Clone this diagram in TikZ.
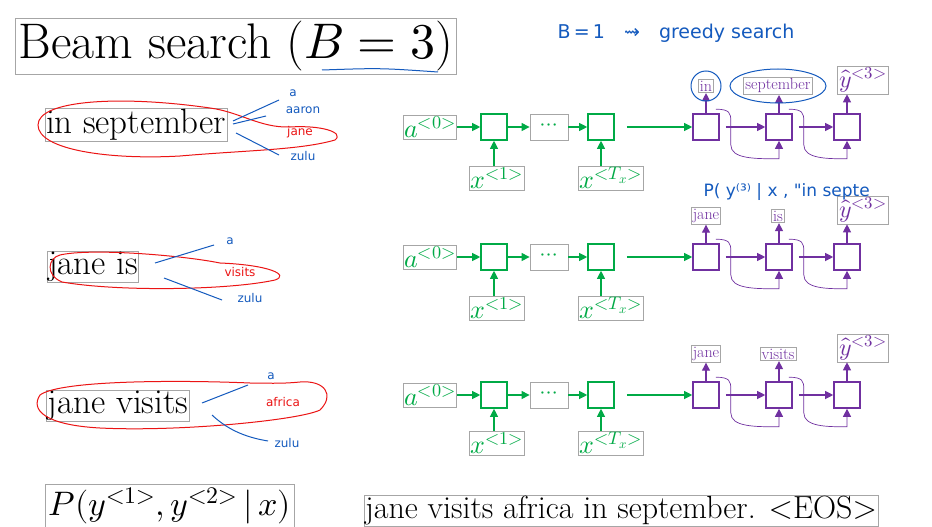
\documentclass[tikz,border=0pt]{standalone}
\usepackage{fontspec}
\usepackage{unicode-math}
\setmathfont{Latin Modern Math}
\usetikzlibrary{calc,arrows.meta}
\newfontfamily\hand{DejaVu Sans}
\definecolor{gg}{RGB}{0,170,70}
\definecolor{pp}{RGB}{112,48,160}
\definecolor{hb}{RGB}{20,90,190}
\definecolor{hr}{RGB}{235,20,20}
\tikzset{
  frm/.style={draw=gray!70,line width=0.8pt,inner sep=2pt},
  gcell/.style={draw=gg,line width=1.6pt,minimum size=26pt,inner sep=0},
  pcell/.style={draw=pp,line width=1.6pt,minimum size=26pt,inner sep=0},
  garr/.style={draw=gg,line width=1.1pt,-{Triangle[length=8pt,width=8pt]}},
  parr/.style={draw=pp,line width=1.1pt,-{Triangle[length=8pt,width=8pt]}},
  pcurve/.style={draw=pp,line width=0.7pt,-{Triangle[length=8pt,width=8pt]}},
  gtxt/.style={frm,text=gg,font=\fontsize{26}{28}\selectfont},
  ptxt/.style={frm,text=pp,font=\fontsize{16}{18}\selectfont,inner sep=1.5pt},
  big/.style={frm,font=\fontsize{35}{37}\selectfont,inner sep=1pt},
  hbt/.style={text=hb,font=\hand\fontsize{12}{13}\selectfont},
  hrt/.style={text=hr,font=\hand\fontsize{12}{13}\selectfont},
  hbl/.style={draw=hb,line width=1pt},
  hrl/.style={draw=hr,line width=1pt},
}
\newcommand\myrow[5]{%
  \node[gtxt,inner sep=1pt] (#1a) at (430,#2) {$a^{<0>}$};
  \node[gcell] (#1g1) at (494,#2) {};
  \node[frm,minimum width=38pt,minimum height=26pt,text=gg,font=\fontsize{22}{24}\selectfont] (#1d) at (549,#2) {$\boldsymbol{\cdots}$};
  \node[gcell] (#1g2) at (601,#2) {};
  \node[gtxt,inner sep=1pt] (#1x1) at (497,#2+51+#5) {$x^{<1>}$};
  \node[gtxt,inner sep=1pt] (#1x2) at (611,#2+51+#5) {$x^{<T_x>}$};
  \node[pcell] (#1p1) at (706,#2) {};
  \node[pcell] (#1p2) at (779,#2) {};
  \node[pcell] (#1p3) at (847,#2) {};
  \node[ptxt] (#1l1) at (706,#2-41) {#3};
  \node[ptxt] (#1l2) at (778,#2-41) {#4};
  \node[frm,text=pp,font=\fontsize{24}{26}\selectfont,inner sep=1.5pt] (#1l3) at (863,#2-47) {$\hat{y}^{<3>}$};
  \draw[garr] (#1a) -- (#1g1);
  \draw[garr] (#1g1) -- (#1d);
  \draw[garr] (#1d) -- (#1g2);
  \draw[garr] (#1g1.south |- #1x1.north) -- (#1g1.south);
  \draw[garr] (#1g2.south |- #1x2.north) -- (#1g2.south);
  \draw[garr] ($(#1g2.east)+(12,0)$) -- (#1p1.west);
  \draw[parr] ($(#1p1.east)+(6,0)$) -- (#1p2.west);
  \draw[parr] ($(#1p2.east)+(6,0)$) -- (#1p3.west);
  \draw[parr] (#1p1.north) -- (#1p1.north |- #1l1.south);
  \draw[parr] (#1p2.north) -- (#1p2.north |- #1l2.south);
  \draw[parr] (#1p3.north) -- (#1p3.north |- #1l3.south);
  \draw[pcurve] ($(#1p1.north east)+(-4,-4)$) .. controls ($(#1p1.north east)+(10,-4)$) and ($(#1p1.north east)+(11,0)$) .. ($(#1p1.north east)+(11,8)$) -- ($(#1p1.south east)+(11,4)$) .. controls ($(#1p1.south east)+(11,18)$) and ($(#1p2.south)+(-25,18)$) .. ($(#1p2.south)+(0,18)$) -- (#1p2.south);
  \draw[pcurve] ($(#1p2.north east)+(-4,-4)$) .. controls ($(#1p2.north east)+(10,-4)$) and ($(#1p2.north east)+(11,0)$) .. ($(#1p2.north east)+(11,8)$) -- ($(#1p2.south east)+(11,4)$) .. controls ($(#1p2.south east)+(11,18)$) and ($(#1p3.south)+(-20,18)$) .. ($(#1p3.south)+(0,18)$) -- (#1p3.south);
}
\begin{document}
\begin{tikzpicture}[x=1pt,y=-1pt]
\useasboundingbox[fill=white] (0,0) rectangle (932,527);
% title
\node[frm,font=\fontsize{50}{54}\selectfont,inner sep=3pt] (title) at (236,46) {Beam search ($B=3$)};
\draw[hbl] (322,70) .. controls (380,68) .. (438,72);
\node[hbt,font=\hand\fontsize{19}{20}\selectfont] (greedy) at (676,33) {B\,=\,1\quad ⇝\quad greedy search};
% left phrases
\node[big] (s1) at (136,125) {in september};
\node[big] (s2) at (93,267) {jane is};
\node[big] (s3) at (118,406) {jane visits};
\node[frm,font=\fontsize{34}{36}\selectfont,inner sep=3pt] (prob) at (170,506) {$P(y^{<1>},y^{<2>}\,|\,x)$};
\node[frm,font=\fontsize{32}{34}\selectfont,inner sep=1pt] (out) at (621,511) {jane visits africa in september. <EOS>};
% handwriting row 1
\draw[hrl] (210,108) .. controls (120,95) and (38,100) .. (38,125) .. controls (38,150) and (110,160) .. (180,156) .. controls (250,150) and (300,150) .. (335,140) .. controls (345,132) and (320,125) .. (290,127) .. controls (260,128) and (240,112) .. (210,108);
\node[hbt] (w1) at (293,93) {a};
\node[hbt] (w2) at (303,110) {aaron};
\node[hrt] (w3) at (300,132) {jane};
\node[hbt] (w4) at (303,156) {zulu};
\draw[hbl] (233,121) -- (279,100);
\draw[hbl] (233,124) -- (266,116);
\draw[hbl] (236,133) -- (279,155);
% row 2
\draw[hrl] (60,255) .. controls (90,248) and (180,255) .. (220,263) .. controls (270,265) and (290,275) .. (275,280) .. controls (230,290) and (120,292) .. (62,282) .. controls (45,275) and (48,258) .. (60,255);
\node[hbt] (v1) at (230,241) {a};
\node[hrt] (v2) at (240,272) {visits};
\node[hbt] (v3) at (250,298) {zulu};
\draw[hbl] (155,263) -- (214,245);
\draw[hbl] (164,278) -- (222,300);
% row 3
\draw[hrl] (250,383) .. controls (180,380) and (60,380) .. (40,395) .. controls (30,410) and (45,425) .. (100,428) .. controls (180,432) and (300,420) .. (320,410) .. controls (335,395) and (325,380) .. (300,382) .. controls (280,384) and (265,383) .. (250,383);
\node[hbt] (u1) at (271,376) {a};
\node[hrt] (u2) at (283,402) {africa};
\node[hbt] (u3) at (287,443) {zulu};
\draw[hbl] (202,403) -- (248,385);
\draw[hbl] (212,415) .. controls (230,432) and (250,438) .. (268,441);
% networks
\myrow{A}{127}{in}{september}{0}
\myrow{B}{257}{jane}{is}{0}
\myrow{C}{395}{jane}{visits}{-3}
% blue circles row 1
\draw[hbl] (Al1) circle (15pt);
\draw[hbl] (Al2) ellipse (48pt and 17pt);
\node[hbt,font=\hand\fontsize{17}{18}\selectfont,anchor=west] (pnote) at (700,192) {P( y⁽³⁾ | x , "in septe};
\end{tikzpicture}
\end{document}
